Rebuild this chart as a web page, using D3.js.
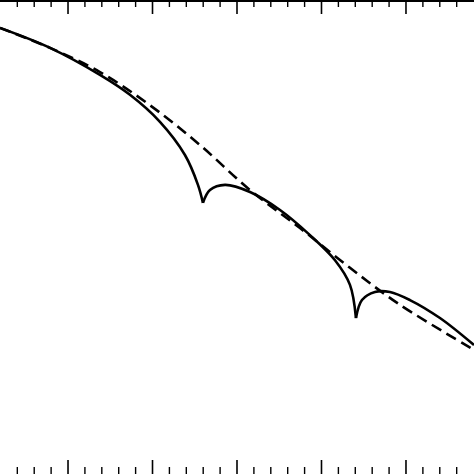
<!DOCTYPE html><html><head><script src="https://cdn.jsdelivr.net/npm/d3@7"></script>
<style>body{margin:0;background:#fff}</style></head><body><svg id="c" width="474" height="474"></svg><script>
const solidX=[[0.195,0.787,1.378,1.733,2.088,2.384,2.538,2.597],[2.597,2.68,2.858,3.154,3.509,3.864,4.16,4.337,4.408],[4.408,4.479,4.633,4.81,5.047,5.402,5.805]];
const solidY=[[9.41,8.99,8.42,8.00,7.43,6.73,6.10,5.72],[5.72,5.99,6.10,5.95,5.57,5.04,4.51,3.99,3.29],[3.29,3.67,3.84,3.84,3.67,3.29,2.72]];
const dashX=[0.195,0.787,1.378,1.97,2.562,3.154,3.745,4.337,4.929,5.805];
const dashY=[9.41,8.99,8.48,7.78,6.94,5.99,5.19,4.35,3.57,2.62];
const svg=d3.select("#c");
const x=d3.scaleLinear().domain([0.195,5.805]).range([0,474]);
const y=d3.scaleLinear().domain([0,10]).range([474,0]);
const major=d3.range(1,6), minor=d3.range(2,29).map(i=>i*0.2).filter(v=>Math.abs(v-Math.round(v))>1e-6);
const g=svg.append("g");
g.append("line").attr("x1",0).attr("x2",474).attr("y1",1).attr("y2",1).attr("stroke","#000").attr("stroke-width",2);
major.forEach(v=>{g.append("line").attr("x1",x(v)).attr("x2",x(v)).attr("y1",0).attr("y2",14).attr("stroke","#000").attr("stroke-width",1.6);
 g.append("line").attr("x1",x(v)).attr("x2",x(v)).attr("y1",474).attr("y2",460).attr("stroke","#000").attr("stroke-width",1.6);});
minor.forEach(v=>{g.append("line").attr("x1",x(v)).attr("x2",x(v)).attr("y1",0).attr("y2",7).attr("stroke","#000").attr("stroke-width",1.4);
 g.append("line").attr("x1",x(v)).attr("x2",x(v)).attr("y1",474).attr("y2",467).attr("stroke","#000").attr("stroke-width",1.4);});
const line=d3.line().x(d=>x(d[0])).y(d=>y(d[1])).curve(d3.curveCatmullRom);
solidX.forEach((xs,i)=>svg.append("path").attr("d",line(xs.map((v,j)=>[v,solidY[i][j]]))).attr("fill","none").attr("stroke","#000").attr("stroke-width",2.6).attr("stroke-linejoin","miter"));
svg.append("path").attr("d",line(dashX.map((v,j)=>[v,dashY[j]]))).attr("fill","none").attr("stroke","#000").attr("stroke-width",2.6).attr("stroke-dasharray","11,6");
</script></body></html>
